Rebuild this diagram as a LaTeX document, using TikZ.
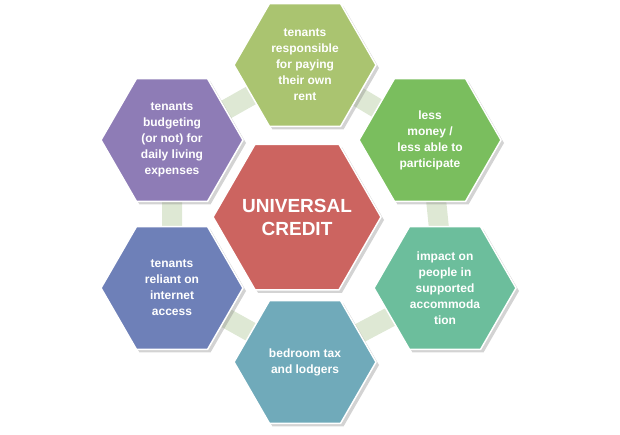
\documentclass[tikz,border=0pt]{standalone}
\usepackage{fontspec}
\setmainfont{Liberation Sans}
\usetikzlibrary{shapes.geometric, shadows, positioning}

\definecolor{hexred}{RGB}{204,100,96}
\definecolor{hexlime}{RGB}{170,196,112}
\definecolor{hexgreen}{RGB}{122,190,94}
\definecolor{hexsea}{RGB}{108,190,156}
\definecolor{hexteal}{RGB}{112,170,186}
\definecolor{hexblue}{RGB}{110,128,184}
\definecolor{hexpurple}{RGB}{142,124,182}
\definecolor{linkgreen}{RGB}{222,232,212}

\begin{document}
\begin{tikzpicture}[x=1pt, y=-1pt,
    hexa/.style={
        regular polygon, regular polygon sides=6,
        minimum size=142pt, inner sep=0pt, draw=white, line width=1.5pt,
        drop shadow={shadow xshift=3pt, shadow yshift=-3pt, opacity=0.35}},
    bigHexa/.style={hexa, minimum size=168pt},
    txt/.style={align=center, text=white, font=\bfseries\fontsize{12}{16}\selectfont},
    bigTxt/.style={align=center, text=white, font=\bfseries\fontsize{19}{23}\selectfont},
    link/.style={draw=linkgreen, line width=20pt, line join=round}]

\useasboundingbox (0,0) rectangle (620,434);

% pale links between the outer cells
\coordinate (ctop) at (305,65);
\coordinate (cur)  at (430,140);
\coordinate (clr)  at (445,288);
\coordinate (cbot) at (305,362);
\coordinate (cll)  at (172,288);
\coordinate (cul)  at (172,140);
\draw[link] (ctop) -- (cur) -- (clr) -- (cbot) -- (cll) -- (cul) -- cycle;

\node[hexa, fill=hexlime]   (rent)    at (ctop) {};
\node[hexa, fill=hexgreen]  (money)   at (cur)  {};
\node[hexa, fill=hexsea]    (support) at (clr)  {};
\node[hexa, fill=hexteal]   (bedroom) at (cbot) {};
\node[hexa, fill=hexblue]   (web)     at (cll)  {};
\node[hexa, fill=hexpurple] (budget)  at (cul)  {};
\node[bigHexa, fill=hexred] (uc)      at (297,217) {};

\node[txt]    at (rent)    {tenants\\responsible\\for paying\\their own\\rent};
\node[txt]    at (money)   {less\\money  /\\less able to\\participate};
\node[txt]    at (support) {impact on\\people in\\supported\\accommoda\\tion};
\node[txt]    at (bedroom) {bedroom tax\\and  lodgers};
\node[txt]    at (web)     {tenants\\reliant on\\internet\\access};
\node[txt]    at (budget)  {tenants\\budgeting\\(or not) for\\daily living\\expenses};
\node[bigTxt] at (uc)      {UNIVERSAL\\CREDIT};

\end{tikzpicture}
\end{document}
